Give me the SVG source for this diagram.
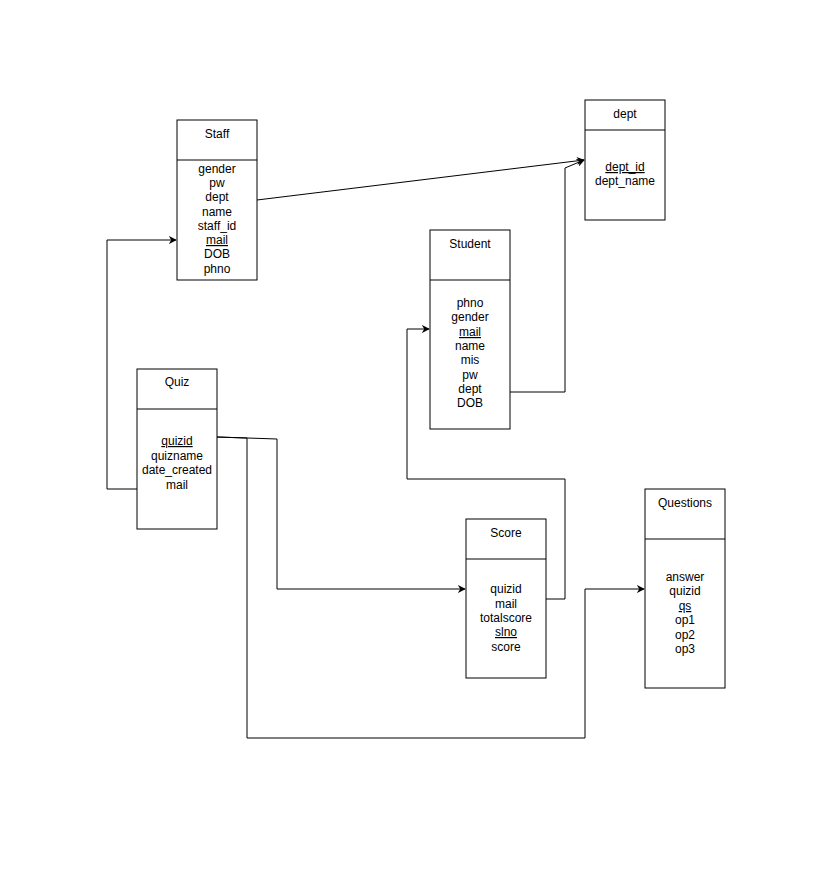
<svg xmlns="http://www.w3.org/2000/svg" width="827" height="887" viewBox="0 0 827 887">
<style>
.box{fill:#fff;stroke:#000;stroke-width:1}
text{font-family:"Liberation Sans",Arial,sans-serif;font-size:12px;text-anchor:middle;fill:#000}
.u{text-decoration:underline}
.c{fill:none;stroke:#000;stroke-width:1}
</style>
<defs><marker id="a" viewBox="0 0 10 10" refX="9" refY="5" markerWidth="8" markerHeight="8" orient="auto" markerUnits="userSpaceOnUse"><path d="M0,0 L10,5 L0,10 L3,5 Z" fill="#000"/></marker></defs>
<rect width="827" height="887" fill="#fff"/>
<g id="connectors">
<path class="c" d="M257,200 L584,160" marker-end="url(#a)"/>
<path class="c" d="M510,392 H565 V168 L584,160" marker-end="url(#a)"/>
<path class="c" d="M137,489 H107 V240 H176" marker-end="url(#a)"/>
<path class="c" d="M217,437 L277,439 V589 H465" marker-end="url(#a)"/>
<path class="c" d="M217,437 L247,438 V738 H585 V589 H644" marker-end="url(#a)"/>
<path class="c" d="M546,599 H565 V479 H407 V329 H429" marker-end="url(#a)"/>
</g>
<g id="staff"><rect class="box" x="177" y="120" width="80" height="160"/><line class="c" x1="177" y1="160" x2="257" y2="160"/>
<text x="217" y="138">Staff</text><text x="217" y="173">gender</text><text x="217" y="187">pw</text><text x="217" y="201">dept</text><text x="217" y="216">name</text><text x="217" y="230">staff_id</text><text class="u" x="217" y="244">mail</text><text x="217" y="258">DOB</text><text x="217" y="273">phno</text></g>
<g id="dept"><rect class="box" x="585" y="100" width="80" height="120"/><line class="c" x1="585" y1="130" x2="665" y2="130"/>
<text x="625" y="118">dept</text><text class="u" x="625" y="171">dept_id</text><text x="625" y="185">dept_name</text></g>
<g id="student"><rect class="box" x="430" y="230" width="80" height="199"/><line class="c" x1="430" y1="280" x2="510" y2="280"/>
<text x="470" y="248">Student</text><text x="470" y="307">phno</text><text x="470" y="321">gender</text><text class="u" x="470" y="336">mail</text><text x="470" y="350">name</text><text x="470" y="364">mis</text><text x="470" y="379">pw</text><text x="470" y="393">dept</text><text x="470" y="407">DOB</text></g>
<g id="quiz"><rect class="box" x="137" y="369" width="80" height="160"/><line class="c" x1="137" y1="409" x2="217" y2="409"/>
<text x="177" y="386">Quiz</text><text class="u" x="177" y="445">quizid</text><text x="177" y="460">quizname</text><text x="177" y="474">date_created</text><text x="177" y="489">mail</text></g>
<g id="score"><rect class="box" x="466" y="519" width="80" height="159"/><line class="c" x1="466" y1="559" x2="546" y2="559"/>
<text x="506" y="537">Score</text><text x="506" y="593">quizid</text><text x="506" y="608">mail</text><text x="506" y="622">totalscore</text><text class="u" x="506" y="636">slno</text><text x="506" y="651">score</text></g>
<g id="questions"><rect class="box" x="645" y="489" width="80" height="199"/><line class="c" x1="645" y1="539" x2="725" y2="539"/>
<text x="685" y="507">Questions</text><text x="685" y="581">answer</text><text x="685" y="595">quizid</text><text class="u" x="685" y="610">qs</text><text x="685" y="624">op1</text><text x="685" y="639">op2</text><text x="685" y="653">op3</text></g>
</svg>
